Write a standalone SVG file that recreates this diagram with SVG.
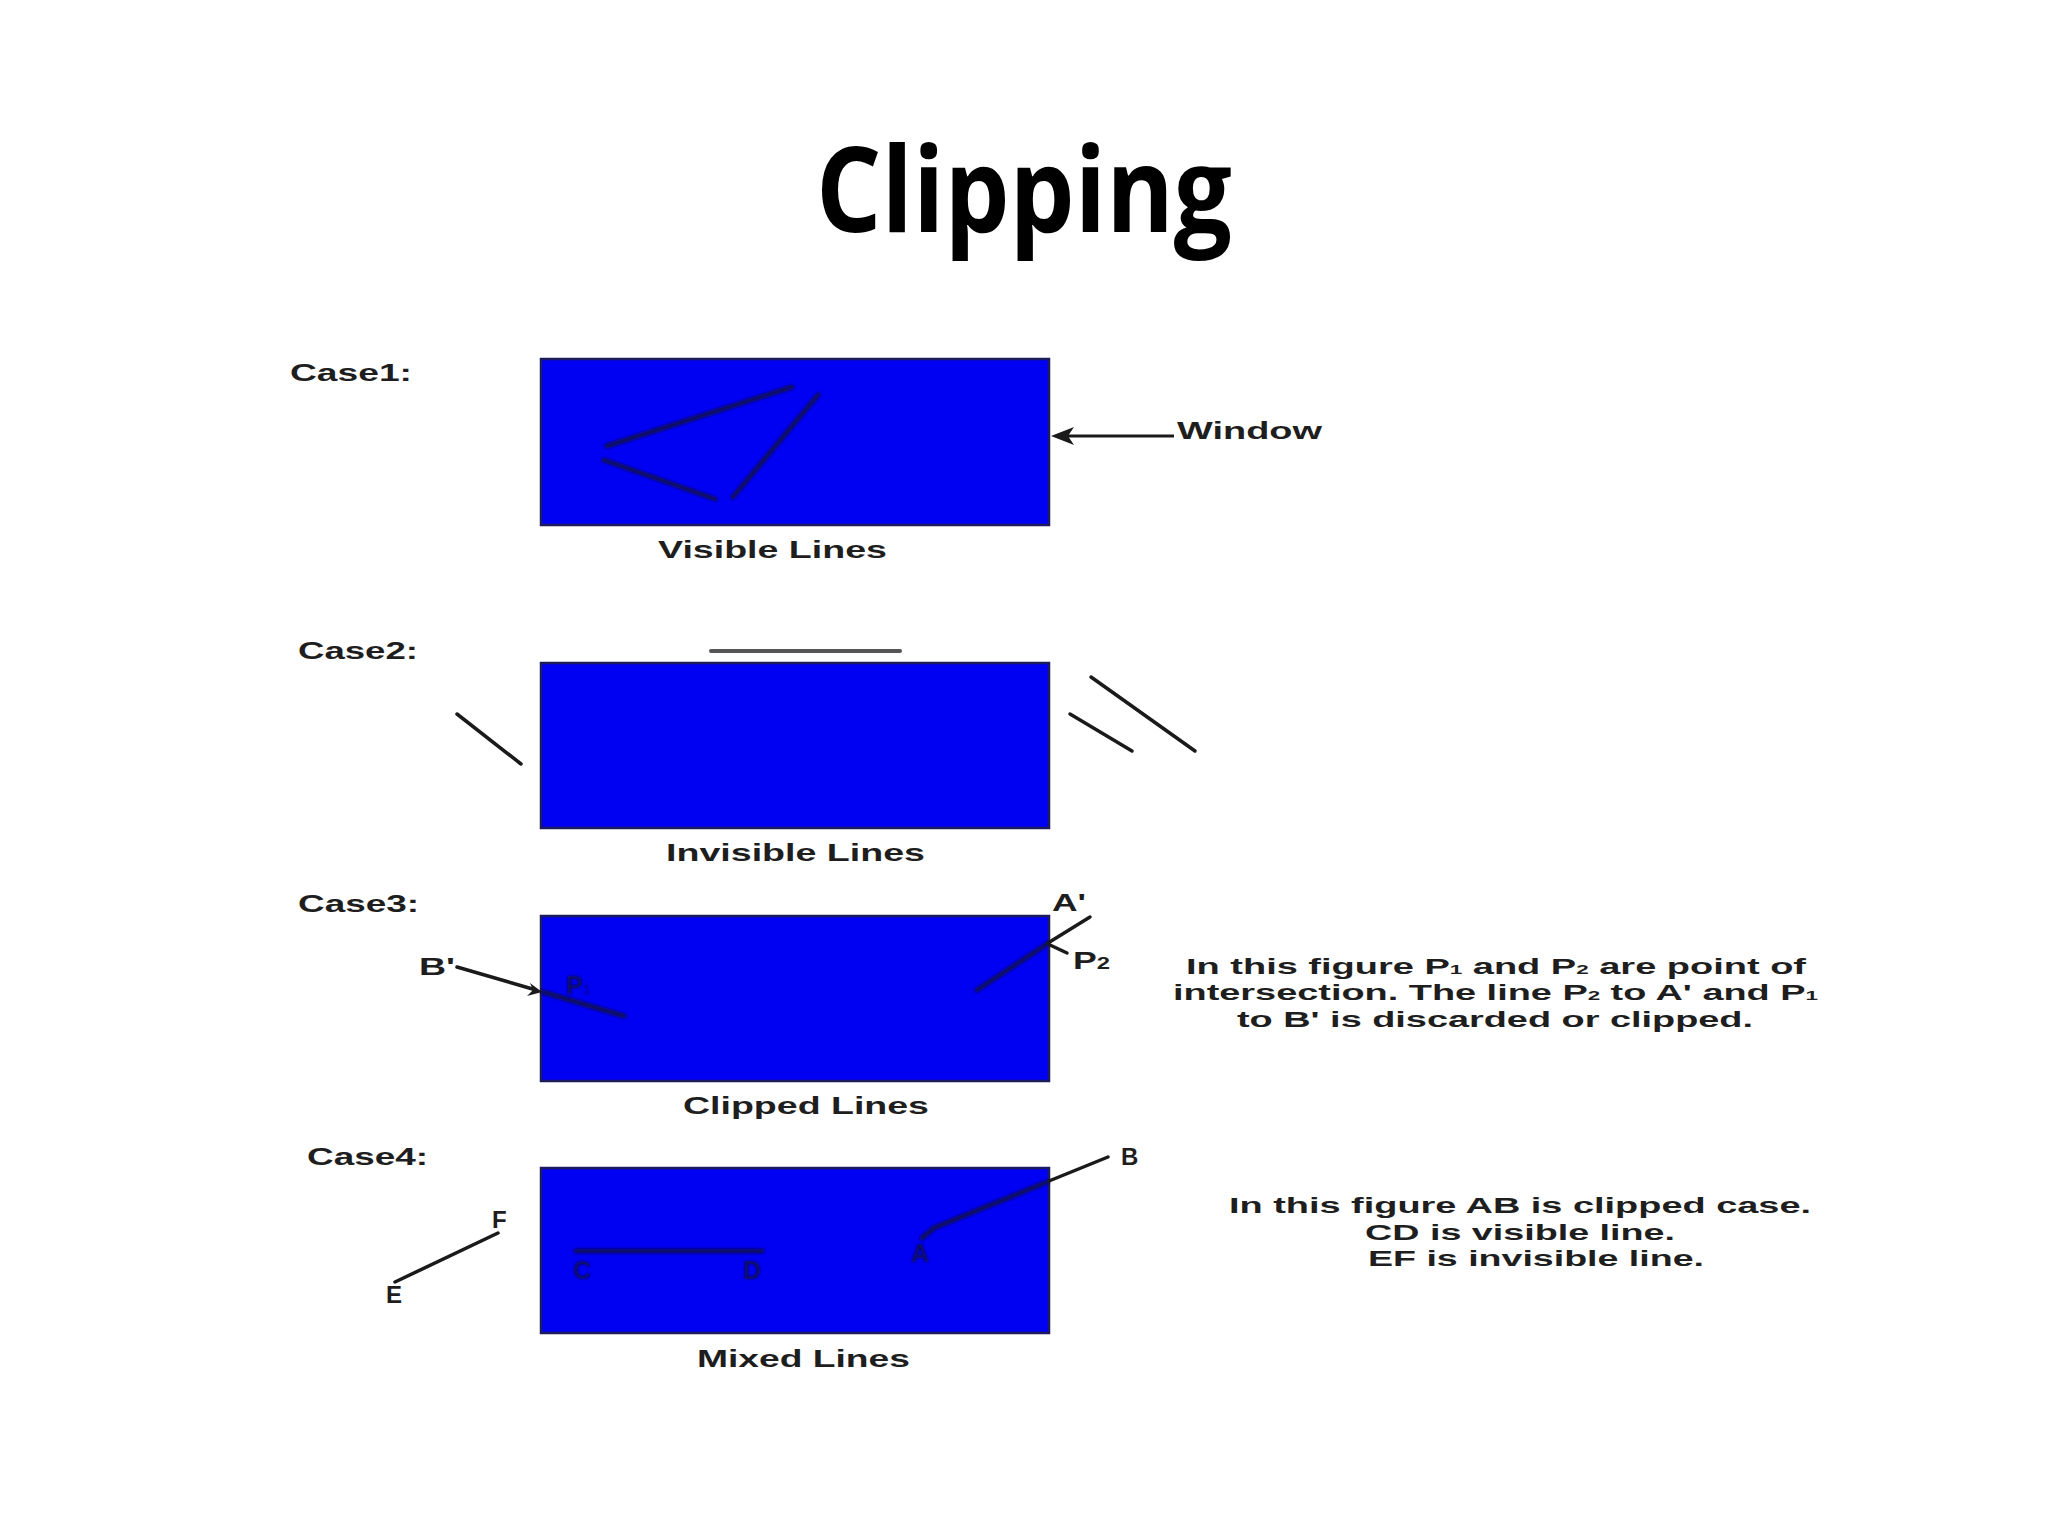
<svg xmlns="http://www.w3.org/2000/svg" width="2048" height="1536" viewBox="0 0 2048 1536">
<style>
.win{fill:#0000f2;stroke:#1c1c5c;stroke-width:2.5}
.lbl{font-family:"Liberation Sans",Arial,sans-serif;font-weight:bold;fill:#1e1e1e}
.cap{font-size:24px}
.par{font-size:22px}
.in{stroke:#0c0c66;stroke-width:5;stroke-linecap:round;fill:none;filter:url(#soft)}
.out{stroke:#1a1a1a;stroke-width:3.5;stroke-linecap:round;fill:none}
.inlbl{font-family:"Liberation Sans",Arial,sans-serif;font-weight:bold;fill:#0a0a5a;font-size:25px;filter:url(#soft)}
</style>
<defs>
<filter id="soft" filterUnits="userSpaceOnUse" x="0" y="0" width="2048" height="1536"><feGaussianBlur stdDeviation="1.2"/></filter>
</defs>
<rect width="2048" height="1536" fill="#ffffff"/>
<text x="1024" y="232" text-anchor="middle" font-family="'Open Sans','Liberation Sans',sans-serif" font-weight="bold" font-size="118" textLength="416" lengthAdjust="spacingAndGlyphs" fill="#000">Clipping</text>

<g id="case1">
<text class="lbl cap" x="290" y="381" textLength="122" lengthAdjust="spacingAndGlyphs">Case1:</text>
<rect class="win" x="541" y="359" width="508" height="166"/>
<line class="in" x1="607" y1="446" x2="792" y2="387"/>
<line class="in" x1="604" y1="460" x2="715" y2="499"/>
<line class="in" x1="733" y1="497" x2="818" y2="395"/>
<text class="lbl cap" x="658" y="558" textLength="229" lengthAdjust="spacingAndGlyphs">Visible Lines</text>
<text class="lbl cap" x="1177" y="439" textLength="145" lengthAdjust="spacingAndGlyphs">Window</text>
</g>

<g id="case2">
<text class="lbl cap" x="298" y="659" textLength="120" lengthAdjust="spacingAndGlyphs">Case2:</text>
<rect class="win" x="541" y="663" width="508" height="165"/>
<line x1="711" y1="651" x2="900" y2="651" stroke="#555" stroke-width="4" stroke-linecap="round"/>
<line class="out" x1="457" y1="714" x2="521" y2="764"/>
<line class="out" x1="1091" y1="677" x2="1195" y2="751"/>
<line class="out" x1="1070" y1="714" x2="1132" y2="751"/>
<text class="lbl cap" x="666" y="861" textLength="259" lengthAdjust="spacingAndGlyphs">Invisible Lines</text>
</g>

<g id="case3">
<text class="lbl cap" x="298" y="912" textLength="121" lengthAdjust="spacingAndGlyphs">Case3:</text>
<rect class="win" x="541" y="916" width="508" height="165"/>
<line class="in" x1="543" y1="992" x2="624" y2="1016"/>
<line class="in" x1="977" y1="990" x2="1047" y2="944"/>
<text class="inlbl" x="566" y="994">P<tspan font-size="14" fill-opacity="0.5">1</tspan></text>
<text class="lbl cap" x="419" y="975" textLength="36" lengthAdjust="spacingAndGlyphs">B'</text>
<text class="lbl cap" x="1052" y="911" textLength="34" lengthAdjust="spacingAndGlyphs">A'</text>
<text class="lbl cap" x="1073" y="969" textLength="37" lengthAdjust="spacingAndGlyphs">P<tspan font-size="16">2</tspan></text>
<text class="lbl cap" x="683" y="1114" textLength="246" lengthAdjust="spacingAndGlyphs">Clipped Lines</text>
<text class="lbl par" x="1186" y="974" textLength="620" lengthAdjust="spacingAndGlyphs">In this figure P<tspan font-size="13">1</tspan> and P<tspan font-size="13">2</tspan> are point of</text>
<text class="lbl par" x="1173" y="1000" textLength="645" lengthAdjust="spacingAndGlyphs">intersection. The line P<tspan font-size="13">2</tspan> to A' and P<tspan font-size="13">1</tspan></text>
<text class="lbl par" x="1237" y="1027" textLength="516" lengthAdjust="spacingAndGlyphs">to B' is discarded or clipped.</text>
</g>

<g id="case4">
<text class="lbl cap" x="307" y="1165" textLength="121" lengthAdjust="spacingAndGlyphs">Case4:</text>
<rect class="win" x="541" y="1168" width="508" height="165"/>
<line class="in" x1="576" y1="1251" x2="762" y2="1251"/>
<text class="inlbl" x="573" y="1279">C</text>
<text class="inlbl" x="743" y="1279">D</text>
<polyline class="in" points="1047,1182 934,1228 922,1238"/>
<text class="inlbl" x="911" y="1262">A</text>
<line class="out" x1="498" y1="1233" x2="395" y2="1282"/>
<text class="lbl cap" x="492" y="1228">F</text>
<text class="lbl cap" x="386" y="1303">E</text>
<text class="lbl cap" x="1121" y="1165">B</text>
<text class="lbl cap" x="697" y="1367" textLength="213" lengthAdjust="spacingAndGlyphs">Mixed Lines</text>
<text class="lbl par" x="1229" y="1213" textLength="582" lengthAdjust="spacingAndGlyphs">In this figure AB is clipped case.</text>
<text class="lbl par" x="1365" y="1240" textLength="310" lengthAdjust="spacingAndGlyphs">CD is visible line.</text>
<text class="lbl par" x="1368" y="1266" textLength="336" lengthAdjust="spacingAndGlyphs">EF is invisible line.</text>
</g>

<g id="connectors">
<line x1="1174" y1="436" x2="1066" y2="436" stroke="#1a1a1a" stroke-width="3"/>
<polygon points="1051,436 1074,427 1068,436 1074,445" fill="#1a1a1a"/>
<line class="out" x1="457" y1="967" x2="536" y2="990"/>
<polygon points="542,992 530,983 533,990 527,996" fill="#1a1a1a"/>
<line class="out" x1="1048" y1="943" x2="1090" y2="917"/>
<line class="out" x1="1050" y1="945" x2="1067" y2="953"/>
<line class="out" x1="1108" y1="1157" x2="1049" y2="1181"/>
</g>
</svg>
